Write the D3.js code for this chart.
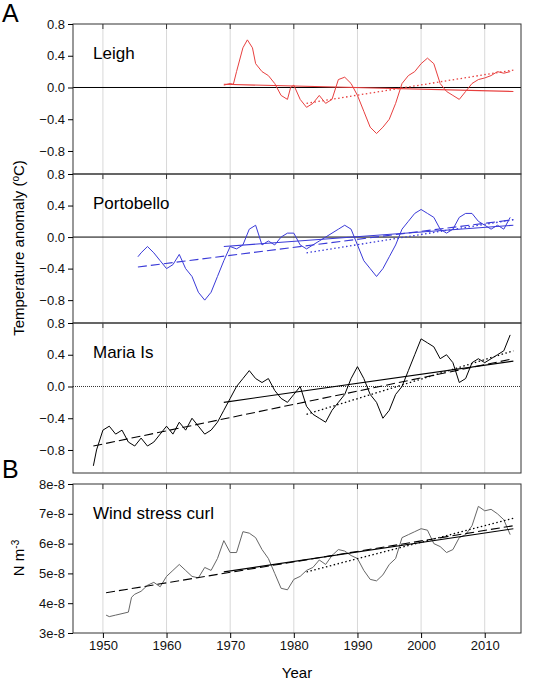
<!DOCTYPE html><html><head><meta charset="utf-8"><script src="https://d3js.org/d3.v7.min.js"></script>
<style>body{margin:0;background:#fff}svg{font-family:"Liberation Sans",Arial,sans-serif}</style></head><body><svg width="541" height="685"></svg>
<script>
const leighYears=[1969,1970,1970.5,1971,1972,1972.7,1973.5,1974,1975,1976,1977,1978,1979,1979.5,1980,1981,1982,1983,1984,1985,1986,1987,1988,1989,1990,1991,1992,1993,1994,1995,1996,1997,1998,1999,2000,2001,2002,2003,2004,2005,2006,2007,2008,2009,2010,2011,2012,2013,2014];
const leighVals=[0.03,0.05,0.04,0.2,0.5,0.6,0.5,0.3,0.2,0.15,0.05,-0.1,-0.15,0.0,0.03,-0.15,-0.25,-0.2,-0.1,-0.2,-0.15,0.1,0.13,0.05,-0.1,-0.3,-0.5,-0.58,-0.5,-0.4,-0.2,0.05,0.15,0.2,0.3,0.37,0.3,0.05,-0.05,-0.1,-0.15,-0.05,0.05,0.1,0.12,0.15,0.2,0.18,0.2];
const portoYears=[1955.5,1956,1957,1958,1959,1960,1961,1962,1963,1964,1965,1966,1967,1968,1969,1970,1971,1972,1973,1974,1975,1976,1977,1978,1979,1980,1981,1982,1983,1984,1985,1986,1987,1988,1989,1990,1991,1992,1993,1994,1995,1996,1997,1998,1999,2000,2001,2002,2003,2004,2005,2006,2007,2008,2009,2010,2011,2012,2013,2014];
const portoVals=[-0.25,-0.2,-0.12,-0.2,-0.3,-0.4,-0.35,-0.22,-0.4,-0.5,-0.7,-0.8,-0.7,-0.5,-0.3,-0.12,-0.15,-0.1,0.1,0.15,-0.1,-0.05,-0.1,0.0,0.05,0.05,-0.1,-0.15,-0.1,-0.05,0.0,0.05,0.1,0.15,0.1,-0.1,-0.3,-0.4,-0.5,-0.4,-0.25,-0.1,0.1,0.2,0.3,0.35,0.3,0.25,0.1,0.05,0.1,0.25,0.3,0.3,0.2,0.15,0.1,0.15,0.1,0.25];
const mariaYears=[1948.5,1949,1950,1951,1952,1953,1954,1955,1956,1957,1958,1959,1960,1961,1962,1963,1964,1965,1966,1967,1968,1969,1970,1971,1972,1973,1974,1975,1976,1977,1978,1979,1980,1981,1982,1983,1984,1985,1986,1987,1988,1989,1990,1991,1992,1993,1994,1995,1996,1997,1998,1999,2000,2001,2002,2003,2004,2005,2006,2007,2008,2009,2010,2011,2012,2013,2014];
const mariaVals=[-1.0,-0.8,-0.55,-0.5,-0.6,-0.55,-0.7,-0.75,-0.65,-0.75,-0.7,-0.6,-0.5,-0.6,-0.45,-0.55,-0.4,-0.5,-0.6,-0.55,-0.45,-0.3,-0.15,0.0,0.1,0.2,0.1,0.05,0.1,-0.05,-0.15,-0.2,-0.1,0.0,-0.25,-0.35,-0.4,-0.45,-0.3,-0.2,-0.1,0.1,0.25,0.1,-0.1,-0.2,-0.4,-0.3,-0.1,0.0,0.2,0.4,0.6,0.55,0.5,0.35,0.4,0.3,0.05,0.1,0.3,0.35,0.3,0.35,0.4,0.45,0.65];
const windYears=[1950.5,1951,1952,1953,1954,1954.5,1955,1956,1957,1958,1959,1960,1961,1962,1963,1964,1965,1966,1967,1968,1969,1970,1971,1972,1973,1974,1975,1976,1977,1978,1979,1980,1981,1982,1983,1984,1985,1986,1987,1988,1989,1990,1991,1992,1993,1994,1995,1996,1997,1998,1999,2000,2001,2002,2003,2004,2005,2006,2007,2008,2009,2010,2011,2012,2013,2014];
const windVals=[3.6,3.55,3.6,3.65,3.7,4.2,4.3,4.4,4.6,4.7,4.55,4.9,5.1,5.3,5.1,4.9,4.85,5.2,5.1,5.5,6.1,5.7,5.7,6.4,6.35,6.2,5.8,5.5,5.0,4.5,4.45,4.8,4.9,5.1,5.2,5.45,5.3,5.6,5.8,5.75,5.6,5.5,5.1,4.8,4.75,4.95,5.3,5.5,6.2,6.3,6.4,6.5,6.45,6.0,5.9,5.7,5.8,6.2,6.3,6.6,7.25,7.1,7.15,7.0,6.8,6.3].map(v=>v*1e-8);
const leighTrends={solid:[1969,0.04,2014.5,-0.05],dotted:[1982,-0.2,2014.5,0.22]};
const portoTrends={dashed:[1955.5,-0.38,2014.5,0.22],solid:[1969,-0.12,2014.5,0.15],dotted:[1982,-0.2,2014.5,0.22]};
const mariaTrends={dashed:[1948.5,-0.75,2014.5,0.35],solid:[1969,-0.2,2014.5,0.32],dotted:[1982,-0.35,2014.5,0.45]};
const windTrends={dashed:[1950.5,4.35e-8,2014.5,6.6e-8],solid:[1969,5.05e-8,2014.5,6.5e-8],dotted:[1982,5.05e-8,2014.5,6.85e-8]};
const tempTicks=[-0.8,-0.4,0.0,0.4,0.8];
const windTicks=[3e-8,4e-8,5e-8,6e-8,7e-8,8e-8];
const yearTicks=[1950,1960,1970,1980,1990,2000,2010];

const svg=d3.select("svg");
const L=73,R=521;
const x=d3.scaleLinear().domain([1945.3,2015.7]).range([L,R]);
const panels=[
 {name:"Leigh",years:leighYears,vals:leighVals,tr:leighTrends,col:"#e8403f",tc:"#e8403f",top:24,bot:174,zero:"solid"},
 {name:"Portobello",years:portoYears,vals:portoVals,tr:portoTrends,col:"#3a3ad8",tc:"#3a3ad8",top:174,bot:323,zero:"solid"},
 {name:"Maria Is",years:mariaYears,vals:mariaVals,tr:mariaTrends,col:"#000",tc:"#000",top:323,bot:473,zero:"dotted"}];
const dash={solid:null,dashed:"9,4",dotted:"1.5,2.5"};
function drawPanel(p,y,ticks,fmt){
 const g=svg.append("g");
 g.selectAll(".grid").data(yearTicks).join("line").attr("x1",d=>x(d)).attr("x2",d=>x(d)).attr("y1",p.top).attr("y2",p.bot).attr("stroke","#d8d8d8").attr("stroke-width",1);
 if(p.zero){g.append("line").attr("x1",L).attr("x2",R).attr("y1",y(0)).attr("y2",y(0)).attr("stroke","#000").attr("stroke-width",p.zero=="solid"?1:0.8).attr("stroke-dasharray",p.zero=="dotted"?"1,1":null);}
 const line=d3.line().x((d,i)=>x(p.years[i])).y(d=>y(d));
 g.append("path").attr("d",line(p.vals)).attr("fill","none").attr("stroke",p.col).attr("stroke-width",1);
 Object.entries(p.tr).forEach(([k,t])=>{g.append("line").attr("x1",x(t[0])).attr("y1",y(t[1])).attr("x2",x(t[2])).attr("y2",y(t[3])).attr("stroke",p.tc).attr("stroke-width",k=="dotted"?1.3:1.1).attr("stroke-dasharray",dash[k]);});
 g.append("rect").attr("x",L).attr("y",p.top).attr("width",R-L).attr("height",p.bot-p.top).attr("fill","none").attr("stroke","#333").attr("stroke-width",1);
 const ax=g.append("g").attr("transform",`translate(${L},0)`).call(d3.axisLeft(y).tickValues(ticks).tickFormat(fmt).tickSize(5).tickSizeOuter(0));
 ax.select(".domain").remove();ax.selectAll("text").attr("font-size",13).attr("fill","#111").attr("font-family","Liberation Sans, Arial");
 g.selectAll(".xt").data(yearTicks).join("line").attr("x1",d=>x(d)).attr("x2",d=>x(d)).attr("y1",p.top).attr("y2",p.top+5).attr("stroke","#333");
 g.append("text").attr("x",L+20).attr("y",p.top+35).attr("font-size",17).text(p.name);
}
panels.forEach(p=>{const y=d3.scaleLinear().domain([-1.09,0.8]).range([p.bot,p.top]);drawPanel(p,y,tempTicks,d3.format(".1f"));});
const wp={name:"Wind stress curl",years:windYears,vals:windVals,tr:windTrends,col:"#666",tc:"#000",top:484,bot:633,zero:null};
const yw=d3.scaleLinear().domain([3e-8,8e-8]).range([633,484]);
drawPanel(wp,yw,windTicks,d=>Math.round(d*1e8)+"e-8");
const bx=svg.append("g").attr("transform","translate(0,633)").call(d3.axisBottom(x).tickValues(yearTicks).tickFormat(d3.format("d")).tickSize(5).tickSizeOuter(0));
bx.select(".domain").remove();bx.selectAll("text").attr("font-size",13).attr("fill","#111").attr("font-family","Liberation Sans, Arial");
svg.append("text").attr("x",297).attr("y",678).attr("text-anchor","middle").attr("font-size",15).text("Year");
svg.append("text").attr("transform","translate(24,248) rotate(-90)").attr("text-anchor","middle").attr("font-size",15).html('Temperature anomaly (<tspan baseline-shift="super" font-size="10">o</tspan>C)');
svg.append("text").attr("transform","translate(24,558) rotate(-90)").attr("text-anchor","middle").attr("font-size",15).html('N m<tspan baseline-shift="super" font-size="10">-3</tspan>');
svg.append("text").attr("x",2).attr("y",22).attr("font-size",25).text("A");
svg.append("text").attr("x",2).attr("y",478).attr("font-size",25).text("B");
</script></body></html>
